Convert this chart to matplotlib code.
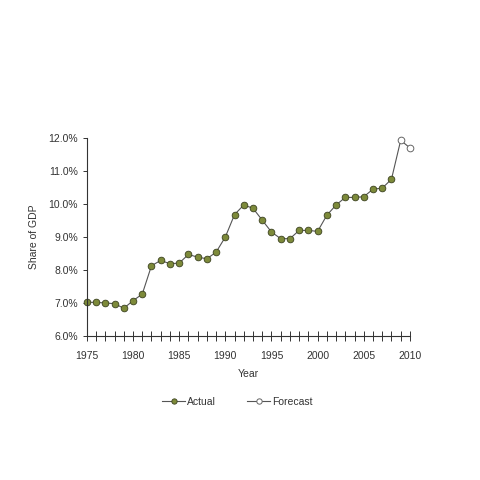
import numpy as np
import matplotlib.pyplot as plt
from matplotlib.ticker import FuncFormatter, MultipleLocator

plt.rcParams['font.family'] = ['Liberation Sans Narrow', 'Liberation Sans', 'DejaVu Sans']

years = list(range(1975, 2009))
actual = [7.02, 7.02, 7.00, 6.98, 6.84, 7.07, 7.27, 8.13, 8.29, 8.19,
          8.21, 8.47, 8.39, 8.34, 8.54, 9.00, 9.68, 9.97, 9.87, 9.51,
          9.15, 8.95, 8.95, 9.20, 9.20, 9.17, 9.66, 9.97, 10.20, 10.20,
          10.22, 10.45, 10.48, 10.75]
fc_years = [2008, 2009, 2010]
forecast = [10.75, 11.93, 11.70]

olive = "#7d8a3a"
edge = "#3b4220"
line_c = "#555555"

fig = plt.figure(figsize=(4.8, 4.8), dpi=100)
ax = fig.add_axes([0.181, 0.30, 0.673, 0.4125])

ax.plot(fc_years, forecast, color=line_c, lw=0.8, marker="o", ms=4.8,
        mfc="white", mec="#666666", mew=0.7, markevery=[1, 2], label="Forecast")
ax.plot(years, actual, color=line_c, lw=0.8, marker="o", ms=4.8,
        mfc=olive, mec=edge, mew=0.6, label="Actual")

ax.set_xlim(1975, 2010)
ax.set_ylim(6.0, 12.0)
ax.xaxis.set_major_locator(MultipleLocator(5))
ax.xaxis.set_minor_locator(MultipleLocator(1))
ax.yaxis.set_major_locator(MultipleLocator(1))
ax.yaxis.set_major_formatter(FuncFormatter(lambda v, p: f"{v:.1f}%"))
ax.tick_params(axis="x", which="both", direction="inout", length=7, width=0.7,
               labelsize=7.5, pad=7, colors="#333333")
ax.tick_params(axis="y", direction="out", length=3, width=0.7,
               labelsize=7.5, colors="#333333")
for s in ["top", "right"]:
    ax.spines[s].set_visible(False)
for s in ["left", "bottom"]:
    ax.spines[s].set_color("#333333")
    ax.spines[s].set_linewidth(0.8)
for l in ax.lines:
    l.set_clip_on(False)

ax.set_xlabel("Year", fontsize=7.5, color="#333333", labelpad=6)
ax.set_ylabel("Share of GDP", fontsize=7.5, color="#333333", labelpad=7)

h, lab = ax.get_legend_handles_labels()
fig.legend(h[::-1], lab[::-1], loc="center", bbox_to_anchor=(0.495, 0.163), ncol=2,
           frameon=False, fontsize=7.5, handlelength=2.2, columnspacing=3,
           handletextpad=0.2, labelcolor="#333333", markerscale=0.8)

fig.savefig("out.png", dpi=100)
